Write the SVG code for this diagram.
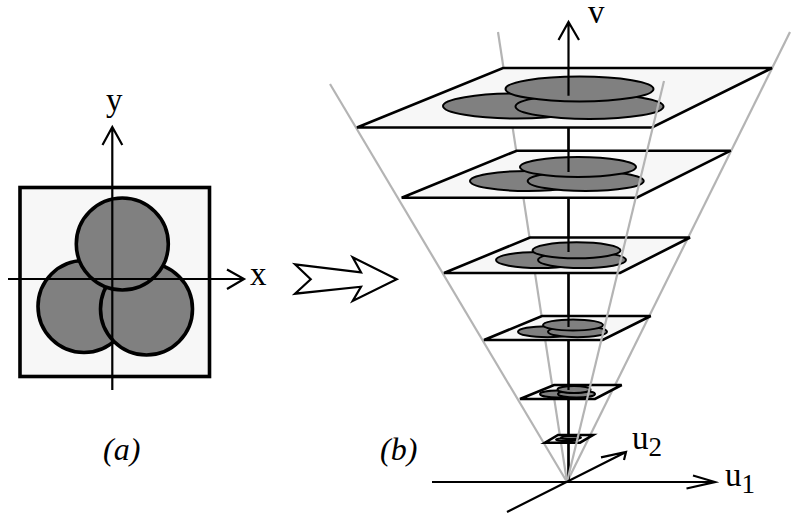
<svg xmlns="http://www.w3.org/2000/svg" width="796" height="515" viewBox="0 0 796 515">
<style>
text{font-family:"Liberation Serif","Times New Roman",serif;fill:#000}
.lbl{font-size:33px}
.cap{font-size:32px;font-style:italic}
.sub{font-size:27px}
.plane{fill:#f7f7f7;stroke:#000;stroke-width:2.6;stroke-linejoin:miter}
.blob{fill:#808080;stroke:#000;stroke-width:2}
.grey{fill:none;stroke:#b4b4b4;stroke-width:2.2}
.ax{fill:none;stroke:#000;stroke-width:2.2}
.circ{fill:#808080;stroke:#000;stroke-width:3.6}
</style>
<rect width="796" height="515" fill="#fff"/>
<g id="panel-a">
<rect x="20" y="187.5" width="189.5" height="189" fill="#f7f7f7" stroke="#000" stroke-width="3.6"/>
<circle class="circ" cx="84" cy="306.5" r="46"/>
<circle class="circ" cx="146.5" cy="309" r="46"/>
<circle class="circ" cx="122.3" cy="244" r="46"/>
</g>
<g id="connectors-a">
<path class="ax" d="M112.3 390V127M102.5 145L112.3 127L122.3 145"/>
<path class="ax" d="M8 279H244M227 269.5L244 279L227 289"/>
</g>
<g id="label-y"><text class="lbl" x="106" y="111">y</text></g>
<g id="label-x"><text class="lbl" x="250" y="285">x</text></g>
<g id="caption-a"><text class="cap" x="103" y="460">(a)</text></g>
<g id="caption-b"><text class="cap" x="380" y="460">(b)</text></g>
<g id="big-arrow">
<path d="M295 264.3L361 272.3L352.7 257.3L396.7 279.3L352.7 301L361 286.7L295 293.7L310.7 279.3Z" fill="#fff" stroke="#000" stroke-width="2.2"/>
</g>
<g id="back-lines">
<path class="grey" d="M567 482L498 32"/>
<path class="grey" d="M567 482L330 84"/>
<path class="grey" d="M567 482L790 32"/>
</g>
<g id="axis-v">
<path class="ax" d="M568.5 482V22M558.5 40L568.5 22L579 40"/>
</g>
<g id="plane-6">
<path class="plane" d="M558 435H593L580 442.7H545Z"/>
<ellipse class="blob" cx="567" cy="439.5" rx="11" ry="1.6"/>
<ellipse class="blob" cx="571" cy="437.5" rx="10" ry="1.6"/>
</g>
<g id="plane-5">
<path class="plane" d="M554 385H621.7L595 399H520Z"/>
<ellipse class="blob" cx="558" cy="394" rx="18" ry="3.5"/>
<ellipse class="blob" cx="576.5" cy="394" rx="18.5" ry="3.5"/>
<ellipse class="blob" cx="574" cy="389.5" rx="16.5" ry="3.5"/>
</g>
<g id="plane-4">
<path class="plane" d="M542 316H650.7L602.7 340H484Z"/>
<ellipse class="blob" cx="547.5" cy="331.7" rx="29.5" ry="5.5"/>
<ellipse class="blob" cx="577.5" cy="331.7" rx="29.5" ry="5.5"/>
<ellipse class="blob" cx="573" cy="325" rx="30" ry="5.5"/>
</g>
<g id="plane-3">
<path class="plane" d="M530 237.5H690L620 273H444Z"/>
<ellipse class="blob" cx="539.5" cy="260" rx="43.5" ry="8"/>
<ellipse class="blob" cx="582" cy="260" rx="44" ry="8"/>
<ellipse class="blob" cx="576.5" cy="250.3" rx="44" ry="8"/>
</g>
<g id="plane-2">
<path class="plane" d="M516.7 150.7H730.7L636.7 197.7H401.7Z"/>
<ellipse class="blob" cx="528" cy="181" rx="58" ry="10"/>
<ellipse class="blob" cx="585.7" cy="181" rx="58" ry="10"/>
<ellipse class="blob" cx="578" cy="167" rx="58" ry="10"/>
</g>
<g id="plane-1">
<path class="plane" d="M503 68H772L652 127.5H357Z"/>
<ellipse class="blob" cx="517" cy="106" rx="74" ry="12.5"/>
<ellipse class="blob" cx="589.5" cy="106.5" rx="74" ry="12.5"/>
<ellipse class="blob" cx="579.5" cy="89" rx="74" ry="12.5"/>
</g>
<g id="connectors-v">
<path class="ax" d="M568.5 68V95.7M568.5 127V172M568.5 197V252M568.5 272V327M568.5 340V390M568.5 399V437M568.5 443V482"/>
<path class="grey" d="M567 482L664 81"/>
</g>
<g id="connectors-u">
<path class="ax" d="M432 482H715M686.5 488.5L715 482L693 475.5"/>
<path class="ax" d="M507 512L626 452M601 457.3L626 452L624 460"/>
</g>
<g id="label-v"><text class="lbl" x="588" y="22.5">v</text></g>
<g id="label-u2"><text class="lbl" x="632" y="449">u<tspan class="sub" dy="7">2</tspan></text></g>
<g id="label-u1"><text class="lbl" x="725" y="486">u<tspan class="sub" dy="7">1</tspan></text></g>
</svg>
